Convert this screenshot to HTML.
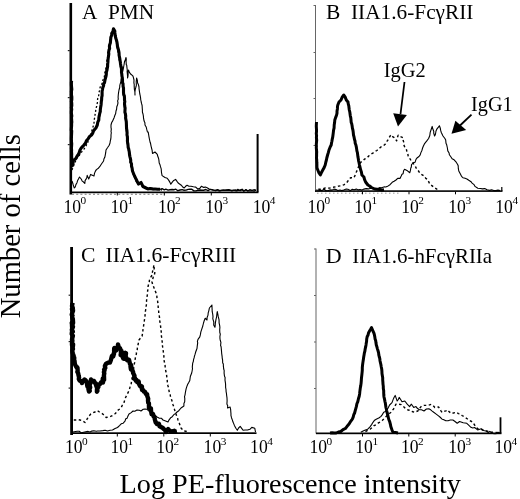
<!DOCTYPE html>
<html><head><meta charset="utf-8">
<style>
html,body{margin:0;padding:0;background:#fff;}
body{width:520px;height:499px;overflow:hidden;}
svg{display:block;}
text{font-family:"Liberation Serif",serif;fill:#000;}
</style></head>
<body>
<svg width="520" height="499" viewBox="0 0 520 499">
<text x="20.2" y="318.3" font-size="28.6" transform="rotate(-90 20.2 318.3)">Number of cells</text>
<text x="119.6" y="492.5" font-size="28.2">Log PE-fluorescence intensity</text>

<!-- Panel A -->
<rect x="69.5" y="3" width="2.6" height="191.5" fill="#000"/>
<rect x="67.8" y="50" width="2" height="1.2" fill="#222"/><rect x="67.8" y="97" width="2" height="1.2" fill="#222"/><rect x="67.8" y="144" width="2" height="1.2" fill="#222"/>
<rect x="70" y="191.5" width="188.5" height="1.7" fill="#000"/>
<line x1="72" y1="194.3" x2="165" y2="194.3" stroke="#999" stroke-width="1.6" stroke-dasharray="2 2.2"/>
<text x="82" y="18.8" font-size="21.3">A</text>
<text x="108" y="18.8" font-size="21.3">PMN</text>
<polyline points="72.0,181.0 73.1,184.2 73.2,184.9 74.3,188.0 75.3,186.8 75.9,184.6 77.0,182.7 77.5,180.8 78.6,178.7 79.5,177.0 81.2,179.0 82.2,181.1 83.3,181.8 84.8,183.5 85.1,180.6 85.9,179.4 86.9,177.2 87.2,175.4 88.7,179.0 89.7,176.7 90.6,174.4 94.0,176.0 94.5,173.4 95.3,171.4 96.4,169.6 98.4,168.2 99.7,166.7 101.6,163.8 103.6,161.0 103.9,159.1 104.8,157.3 105.3,154.8 105.7,152.7 106.0,150.0 107.3,148.0 107.8,147.3 109.2,145.2 110.0,143.0 110.3,140.9 110.8,139.0 111.0,137.0 111.0,135.0 111.3,132.7 111.0,131.7 111.3,129.1 111.0,127.4 111.0,125.0 111.7,122.5 112.4,121.4 113.2,119.7 114.1,117.7 115.0,115.0 115.6,113.8 116.0,111.0 116.6,109.3 116.8,106.7 117.5,105.0 118.0,102.9 117.6,100.9 118.3,99.1 118.1,97.2 118.3,94.7 118.6,92.4 119.0,90.0 119.7,87.5 119.8,85.3 120.0,84.6 120.9,81.5 121.0,80.0 121.5,77.9 121.7,75.2 122.2,73.4 122.5,72.0 123.3,68.9 123.7,66.5 124.0,65.0 124.5,61.6 125.1,60.6 126.0,57.5 126.3,59.0 126.1,61.5 126.3,64.7 126.7,65.1 127.0,68.0 127.3,70.2 127.1,71.3 127.3,73.2 127.6,76.5 127.5,78.0 127.9,76.7 128.1,74.7 128.1,72.0 128.5,70.0 129.4,72.4 130.9,74.3 132.6,75.6 133.3,77.1 134.0,80.0 133.9,82.8 134.2,84.4 134.2,86.5 134.4,89.4 134.7,90.9 134.9,92.0 135.0,95.0 134.9,92.2 135.2,89.9 135.7,87.9 136.1,86.5 136.4,85.2 136.2,81.8 136.5,79.7 136.6,78.0 137.4,80.5 137.6,82.9 138.4,84.6 139.0,87.0 139.0,88.3 139.4,91.2 139.8,94.0 140.1,95.1 140.6,98.0 140.7,99.5 141.2,102.0 141.6,103.7 142.1,105.5 142.3,108.8 142.4,109.9 142.4,112.1 143.0,114.0 143.4,116.1 143.5,117.8 144.1,121.1 144.9,122.8 145.0,125.0 146.2,127.0 146.7,129.2 147.4,131.9 148.2,132.1 148.7,135.0 149.0,136.8 149.6,140.0 150.2,142.6 150.5,143.1 151.0,145.8 151.5,148.0 152.1,150.2 152.5,153.5 155.0,152.0 157.3,154.4 157.6,155.8 158.6,158.5 158.9,160.1 159.2,163.0 159.9,164.4 160.5,166.7 161.2,168.8 161.4,171.5 161.5,172.7 162.1,175.6 165.0,177.5 167.2,178.2 168.8,180.4 170.1,182.6 170.8,184.2 171.9,182.6 173.7,180.4 175.6,179.4 177.2,181.6 178.5,183.3 181.3,185.2 182.7,187.0 184.2,188.0 185.6,186.3 187.1,185.2 188.9,186.2 191.0,186.2 193.4,186.7 195.8,187.1 197.7,189.0 199.8,188.4 201.5,186.2 203.7,187.4 205.4,187.1 207.1,187.7 209.2,189.0 213.0,190.2 214.8,190.2 217.1,190.1 219.1,191.0 220.7,190.8 223.4,190.0 225.0,190.3 227.0,189.7 228.8,189.5 231.6,191.0 233.0,190.6 235.1,189.9 237.5,190.6 239.5,190.2 241.6,189.6 243.8,191.1 245.7,189.6 247.6,190.7 249.8,191.0 251.8,190.7 254.1,191.2 256.0,190.3" fill="none" stroke="#000" stroke-width="1.1" stroke-linejoin="round"/>
<polyline points="72.0,170.0 72.8,167.7 73.6,165.8 74.2,164.2 75.4,161.4 76.0,160.0 77.2,157.7 78.7,156.6 80.0,154.0 81.2,152.8 82.2,151.0 83.8,149.4 84.9,147.6 86.0,146.0 86.7,144.2 87.8,142.3 88.4,139.8 89.5,138.0 90.1,136.4 90.9,134.3 91.6,132.3 92.0,130.0 92.8,127.5 93.5,125.3 94.0,123.0 94.1,121.3 94.5,118.2 94.9,117.0 95.1,114.4 95.5,112.0 95.8,110.0 96.2,107.8 96.7,106.1 97.0,104.2 97.4,102.4 97.5,100.0 97.8,98.2 98.6,96.4 98.8,94.5 99.0,92.3 99.6,90.4 100.0,88.0 100.6,85.7 101.8,84.4 102.5,81.5 103.0,79.9 104.0,78.0 104.5,75.8 104.6,74.4 105.0,72.1 105.5,70.3 106.0,68.0 106.5,66.5 106.8,64.0 106.7,61.8 107.0,60.1 107.5,58.0 107.7,55.6 107.8,54.1 108.4,51.5 108.7,49.8 108.7,48.5 109.0,46.0 109.3,44.0 109.7,42.2 110.1,40.1 110.3,38.5 110.8,35.9 111.0,34.0 111.9,31.2 113.0,29.0 115.0,32.0 115.3,34.6 115.4,36.1 115.9,37.9 116.3,39.4 116.5,42.0 116.6,44.2 117.1,46.2 117.3,48.2 117.8,50.2 118.0,52.0 118.1,53.4 118.9,56.2 119.0,57.7 119.2,60.1 119.6,61.8 120.0,64.0 120.3,65.8 120.5,67.8 120.7,70.3 121.3,72.1 121.5,74.0 121.6,75.8 121.8,78.4 122.1,79.6 122.2,82.2 122.5,83.8 122.8,86.4 123.0,88.0 123.0,90.4 123.4,91.8 123.5,94.5 123.5,95.7 123.7,98.0 124.0,100.0 124.3,102.4 124.2,103.6 124.6,106.4 124.6,108.4 124.7,109.6 125.0,112.0 125.1,114.4 125.3,115.8 125.5,117.9 125.5,120.5 126.0,121.4 126.0,124.0 126.4,126.5 126.5,127.9 126.3,130.5 126.7,132.3 126.7,134.2 126.8,135.7 127.0,138.0 127.0,139.7 127.4,142.1 127.5,144.4 128.1,146.5 128.4,148.5 128.5,150.5 128.9,151.4 129.0,154.0 129.2,155.6 129.7,158.2 130.2,159.9 130.3,162.1 130.8,163.7 131.0,166.0 131.6,168.0 131.9,169.8 132.7,172.0 133.0,174.0 134.1,175.9 135.1,179.2 136.0,181.0 137.8,183.4 140.0,185.0 142.2,186.2 143.9,186.5 146.0,188.0 148.3,188.1 150.5,188.7 152.5,189.5 155.0,189.5 157.2,189.1 159.5,189.4 162.0,190.0" fill="none" stroke="#000" stroke-width="1.3" stroke-linejoin="round" stroke-dasharray="2 2"/>
<polyline points="71.6,80.8 71.4,82.5 71.4,84.7 71.5,86.3 71.8,89.5 71.4,91.3 71.5,93.1 71.4,94.6 71.8,96.7 71.8,99.6 71.4,101.6 71.7,102.9 71.8,105.5 71.4,107.8 71.7,109.4 71.4,111.3 71.4,113.3 71.8,116.0 71.5,117.5 71.6,120.0 71.8,122.0 71.6,123.6 71.6,125.7 71.5,127.1 71.3,130.1 71.7,131.0 71.6,133.4 71.5,135.7 71.4,138.5 71.4,139.7 71.5,142.0 71.7,143.7 71.6,145.7 71.4,148.5 71.6,150.0 71.5,151.4 71.7,154.4 71.6,155.6 71.7,157.5 71.8,160.0 72.0,161.4 72.2,164.6 72.0,166.0 72.9,164.3 73.2,161.3 74.0,160.0 75.5,159.0 76.9,156.5 78.0,155.0 79.2,152.7 80.0,150.0 81.2,148.0 82.5,146.6 84.0,145.0 85.6,142.8 86.4,140.8 88.0,139.0 89.6,136.4 91.5,135.0 92.6,133.4 93.6,130.7 95.0,129.0 96.1,127.7 97.3,125.0 97.8,122.1 98.8,120.0 98.9,117.4 99.2,116.2 99.7,113.4 100.3,111.6 100.3,110.0 100.6,107.5 100.8,106.4 101.1,104.7 101.3,101.6 101.6,100.0 101.7,97.4 102.1,95.6 102.1,94.5 102.1,91.3 102.4,90.0 102.8,87.6 103.6,85.6 103.7,83.5 104.5,82.6 105.0,80.0 105.3,78.7 105.9,76.6 106.3,74.4 106.4,72.0 107.0,70.0 107.4,67.6 107.6,66.6 107.7,63.8 107.9,62.4 108.0,60.0 108.2,58.4 108.5,56.2 108.8,53.7 108.6,52.6 109.0,50.0 109.6,48.7 109.4,46.2 109.8,44.6 110.4,42.7 110.6,40.0 110.9,37.1 111.6,35.5 112.0,33.0 113.0,31.2 113.5,28.8 114.8,31.0 114.9,32.9 115.3,36.1 115.8,38.3 116.4,40.0 117.0,42.4 117.3,44.5 117.5,46.5 118.0,48.2 118.5,50.0 119.0,52.5 119.1,54.0 119.1,55.3 119.7,58.1 120.0,60.0 120.4,62.5 120.5,63.5 120.9,66.4 121.4,67.3 121.5,70.0 121.5,72.5 121.8,74.1 122.0,76.4 122.3,77.6 122.5,80.0 122.5,82.7 123.0,83.5 123.1,86.5 123.5,87.9 123.5,90.0 123.5,92.4 123.7,94.5 124.3,95.7 124.5,97.9 124.5,100.0 124.8,101.5 124.5,103.5 124.7,106.0 125.1,108.1 125.0,110.0 124.9,112.3 125.4,113.7 125.7,116.0 125.6,118.0 126.0,120.0 126.3,121.8 126.4,124.1 126.5,127.1 126.6,128.8 126.9,130.5 127.1,132.8 127.0,135.0 127.4,136.7 127.5,139.4 127.4,140.9 127.7,143.4 128.0,145.0 128.2,147.6 128.7,149.1 129.3,152.0 129.5,154.4 129.9,156.6 130.3,158.1 130.7,160.0 130.7,162.2 131.5,163.9 131.5,166.0 132.1,168.1 132.5,171.0 133.4,173.3 134.5,176.0 135.2,177.3 136.5,180.0 137.7,182.6 138.5,184.0 141.0,182.5 142.2,184.9 143.0,186.5 146.0,188.0 147.8,188.9 150.0,188.5 152.5,188.9 155.0,189.0 157.7,189.3 160.0,189.3" fill="none" stroke="#000" stroke-width="3.1" stroke-linejoin="round"/>
<polyline points="160.0,189.3 162.1,188.7 164.3,189.8 165.8,189.2 168.1,190.1 170.0,189.8 172.1,189.5 174.2,189.7 175.8,189.2 177.9,190.7 180.0,190.0 182.2,189.6 183.7,190.2 186.1,190.1 188.1,189.4 189.9,189.3 191.8,189.2 193.9,190.9 196.0,190.9 198.3,190.2 200.0,190.0 201.7,190.3 204.1,190.2 205.7,189.5 208.0,190.7 210.0,189.5 212.2,189.6 213.7,190.1 215.7,190.7 217.7,189.7 219.7,190.6 221.7,190.2 224.1,190.1 226.0,190.2 228.0,190.2 230.0,190.2 231.7,190.4 233.8,190.2 236.3,190.9 237.7,189.4 240.1,190.6 242.1,189.3 243.9,191.0 246.0,189.9 247.8,191.0 249.8,189.8 252.0,190.4 253.9,189.8 256.0,190.2" fill="none" stroke="#000" stroke-width="1.4" stroke-linejoin="round"/>

<rect x="256.6" y="134" width="2" height="58" fill="#000"/>
<text x="63.5" y="213" font-size="18.8" textLength="17.6" lengthAdjust="spacingAndGlyphs">10</text><text x="80.6" y="203.8" font-size="11.3">0</text>
<text x="110.5" y="213" font-size="18.8" textLength="17.6" lengthAdjust="spacingAndGlyphs">10</text><text x="127.6" y="203.8" font-size="11.3">1</text>
<text x="157.9" y="213" font-size="18.8" textLength="17.6" lengthAdjust="spacingAndGlyphs">10</text><text x="175.0" y="203.8" font-size="11.3">2</text>
<text x="205.3" y="213" font-size="18.8" textLength="17.6" lengthAdjust="spacingAndGlyphs">10</text><text x="222.4" y="203.8" font-size="11.3">3</text>
<text x="252.7" y="213" font-size="18.8" textLength="17.6" lengthAdjust="spacingAndGlyphs">10</text><text x="269.8" y="203.8" font-size="11.3">4</text>


<g fill="#000"><rect x="116.8" y="193" width="1" height="2.5"/><rect x="163.8" y="193" width="1" height="2.5"/><rect x="210.8" y="193" width="1" height="2.5"/></g>
<!-- Panel B -->
<rect x="315" y="5" width="1" height="187" fill="#666"/>
<rect x="313.5" y="5" width="2" height="1" fill="#666"/>
<rect x="313.5" y="52" width="2" height="1" fill="#666"/>
<rect x="313.5" y="98" width="2" height="1" fill="#666"/>
<rect x="313.5" y="145" width="2" height="1" fill="#666"/>
<rect x="315" y="190.3" width="187.5" height="1.6" fill="#000"/>
<line x1="317" y1="193.2" x2="400" y2="193.2" stroke="#bbb" stroke-width="1.4" stroke-dasharray="1.5 2.5"/>
<rect x="501.2" y="187" width="1.2" height="4" fill="#000"/>
<text x="326" y="18.6" font-size="21.5">B</text>
<text x="351" y="18.6" font-size="21.5" id="tB" textLength="122.4" lengthAdjust="spacingAndGlyphs">IIA1.6-FcγRII</text>
<polyline points="316.0,190.0 318.2,190.2 320.3,190.5 322.3,190.4 324.0,189.2 326.1,190.8 327.7,190.7 329.8,189.9 332.1,190.1 333.8,189.1 336.3,189.6 337.8,190.5 340.0,190.0 341.7,190.5 343.7,190.1 346.3,189.0 347.8,189.3 350.3,190.6 352.3,189.3 354.1,189.7 356.3,189.1 358.3,189.9 360.0,189.5 362.0,190.1 364.0,189.1 366.1,188.6 368.6,188.9 370.8,188.2 372.7,188.8 375.0,189.0 377.2,189.0 379.5,187.6 381.4,187.8 384.0,186.9 385.7,187.0 388.2,185.9 390.0,184.7 392.2,182.3 394.1,181.3 396.0,180.0 397.7,178.3 400.0,178.4 401.2,176.0 402.0,174.2 403.1,173.7 403.6,170.8 404.6,169.2 406.9,170.4 409.8,172.7 410.4,170.7 410.8,167.9 411.3,167.2 411.5,164.6 413.6,162.6 415.0,162.3 416.0,159.3 417.3,157.7 419.0,156.5 420.2,154.9 420.8,152.9 422.0,150.2 422.6,148.0 423.4,146.0 424.4,143.9 426.8,140.9 428.6,138.5 429.8,135.5 430.2,132.4 431.0,130.0 432.2,126.4 432.5,128.0 433.8,131.5 433.7,133.0 434.6,136.0 435.4,134.5 436.0,131.0 437.0,128.8 439.4,125.8 440.3,128.2 440.6,130.2 441.3,132.5 443.0,136.0 444.9,138.5 445.7,140.1 446.0,143.3 446.7,144.8 447.4,148.0 447.8,150.9 449.1,153.0 449.4,154.8 451.0,157.0 452.1,158.8 454.1,159.8 456.2,162.2 457.5,164.2 458.2,165.8 458.3,168.4 458.8,171.0 460.4,174.1 461.5,176.3 462.9,177.7 465.1,178.3 466.9,179.0 468.8,180.3 471.0,181.7 472.1,183.1 474.0,184.6 475.0,186.4 477.8,188.3 480.4,188.5 482.5,188.9 484.7,188.6 487.1,189.8 489.5,190.4 491.6,189.8 493.7,190.6 495.9,190.6 498.0,190.1 500.0,190.5" fill="none" stroke="#000" stroke-width="1.1" stroke-linejoin="round"/>
<polyline points="318.3,189.2 320.7,189.3 322.8,188.7 325.3,188.0 327.6,188.2 329.8,188.0 332.8,187.3 335.6,186.9 338.6,186.1 341.4,185.8 343.7,184.8 346.0,183.4 347.6,181.5 349.1,179.3 350.6,177.7 354.0,177.7 354.7,176.1 355.7,174.1 356.4,171.9 357.2,170.2 358.2,167.4 358.9,166.1 359.8,163.8 361.2,161.9 362.8,160.9 364.4,159.2 366.7,158.0 369.0,155.8 371.1,154.1 373.2,152.9 375.0,151.6 376.9,150.5 378.8,148.8 380.6,147.2 383.2,145.9 385.4,144.0 386.4,141.8 387.5,140.6 388.6,138.8 389.6,136.9 391.0,134.8 392.6,136.6 394.2,137.6 395.5,138.8 396.6,140.8 397.3,137.8 398.2,135.2 399.8,136.4 403.0,137.6 403.1,140.0 403.7,142.1 403.8,144.8 405.0,147.6 406.6,150.0 407.0,152.6 407.9,154.4 408.3,156.9 409.2,157.7 410.9,160.1 412.7,162.3 413.8,164.1 415.2,165.7 416.1,168.0 417.8,169.9 419.6,172.7 421.9,174.6 424.2,176.1 425.8,178.3 427.7,179.6 429.0,182.4 430.0,184.2 432.5,186.1 434.6,187.7 436.4,188.8 438.0,190.0" fill="none" stroke="#000" stroke-width="1.4" stroke-linejoin="round" stroke-dasharray="2.5 2.5"/>
<polyline points="316.5,122.0 316.4,123.8 316.3,126.2 316.4,128.0 316.5,129.6 316.5,131.5 316.3,133.6 316.6,135.9 316.4,137.6 316.7,140.1 316.5,142.1 316.3,144.5 316.4,146.4 316.3,147.6 316.5,150.0 316.7,151.8 316.6,153.7 316.6,156.1 316.5,158.0 316.7,159.6 316.8,162.2 316.9,163.8 316.9,166.0 317.0,168.0 318.1,170.8 319.0,173.0 320.4,175.0 321.6,172.2 322.8,170.0 324.2,167.5 325.2,165.0 325.7,162.7 326.4,160.0 326.8,158.0 327.6,155.0 328.4,152.4 329.0,150.0 330.1,147.2 331.2,145.0 331.6,142.5 331.9,141.3 332.2,139.4 332.7,137.2 333.0,135.0 333.3,132.6 333.6,130.0 334.1,127.8 334.2,125.0 334.6,122.5 334.8,120.0 335.8,117.1 336.6,115.0 337.0,113.1 337.0,111.3 337.4,108.9 337.5,106.5 337.8,105.0 339.0,102.0 341.0,100.0 342.2,97.2 343.8,95.0 345.2,97.1 346.3,100.0 348.0,102.0 348.2,103.6 348.8,105.9 349.0,107.6 349.3,110.0 349.8,112.0 350.1,114.3 350.3,115.8 350.8,117.9 351.0,120.0 351.2,122.5 351.7,123.7 352.1,125.7 352.4,128.1 352.9,130.0 353.2,132.0 353.5,135.0 354.0,136.9 354.5,139.5 355.0,141.0 355.2,143.2 355.9,145.0 356.4,147.4 356.7,149.4 356.9,150.9 357.4,152.6 357.7,155.0 357.9,156.6 358.3,158.7 358.6,160.8 359.0,162.5 359.5,165.0 360.0,167.1 360.7,170.0 361.4,172.0 361.9,175.0 363.9,177.0 364.6,179.6 365.6,182.0 367.9,185.0 369.6,186.0 371.4,187.5 374.8,189.0 377.2,189.2 380.0,189.6 382.2,190.0 384.0,189.8" fill="none" stroke="#000" stroke-width="3" stroke-linejoin="round"/>

<text x="383.8" y="77.4" font-size="20.4">IgG2</text>
<text x="471.1" y="110.7" font-size="20.2">IgG1</text>
<line x1="404.5" y1="82" x2="400.5" y2="114" stroke="#000" stroke-width="1.8"/>
<polygon points="393.2,113.3 406.9,114.9 398,126.5" fill="#000"/>
<line x1="471.5" y1="114.6" x2="460" y2="125.5" stroke="#000" stroke-width="1.8"/>
<polygon points="451.5,133.8 455.4,120.8 466.2,130" fill="#000"/>
<text x="307.5" y="212.5" font-size="18.8" textLength="17.6" lengthAdjust="spacingAndGlyphs">10</text><text x="324.6" y="203.5" font-size="11.3">0</text>
<text x="354.3" y="212.5" font-size="18.8" textLength="17.6" lengthAdjust="spacingAndGlyphs">10</text><text x="371.4" y="203.5" font-size="11.3">1</text>
<text x="401.2" y="212.5" font-size="18.8" textLength="17.6" lengthAdjust="spacingAndGlyphs">10</text><text x="418.3" y="203.5" font-size="11.3">2</text>
<text x="448.3" y="212.5" font-size="18.8" textLength="17.6" lengthAdjust="spacingAndGlyphs">10</text><text x="465.4" y="203.5" font-size="11.3">3</text>
<text x="495.3" y="212.5" font-size="18.8" textLength="17.6" lengthAdjust="spacingAndGlyphs">10</text><text x="512.4" y="203.5" font-size="11.3">4</text>


<g fill="#000"><rect x="362" y="191.8" width="1" height="2.5"/><rect x="408.5" y="191.8" width="1" height="2.5"/><rect x="455" y="191.8" width="1" height="2.5"/></g>
<!-- Panel C -->
<rect x="70.2" y="247" width="2.8" height="188" fill="#000"/>
<rect x="68.6" y="294.6" width="2" height="1.2" fill="#222"/><rect x="68.6" y="341" width="2" height="1.2" fill="#222"/><rect x="68.6" y="387.5" width="2" height="1.2" fill="#222"/>
<rect x="71" y="432.3" width="185.5" height="1.7" fill="#000"/>
<text x="81" y="262.3" font-size="21.7">C</text>
<text x="105.5" y="262.3" font-size="21.5" id="tC">IIA1.6-FcγRIII</text>
<polyline points="73.0,432.0 75.5,431.5 77.4,431.3 79.2,431.3 81.3,432.9 83.6,432.3 85.7,431.9 88.1,431.4 90.0,432.0 91.8,431.1 93.8,430.7 96.3,431.2 97.7,431.0 100.0,431.0 102.9,430.6 105.1,430.2 107.5,431.0 110.1,430.3 112.5,430.0 115.1,428.5 117.5,427.5 119.5,425.6 121.2,423.8 123.2,423.2 125.0,421.2 125.7,418.8 127.0,418.4 128.3,415.3 129.0,414.0 131.2,412.6 133.0,411.0 134.8,411.2 137.0,410.0 139.3,410.2 141.0,411.0 143.2,409.3 145.0,409.0 147.1,409.3 149.3,411.4 151.0,412.0 153.0,414.3 154.7,414.8 157.0,417.0 159.0,418.1 161.3,418.2 163.0,420.0 165.6,421.0 168.0,422.0 169.1,419.8 170.6,417.8 172.0,417.0 173.6,414.9 175.6,413.4 177.0,412.0 178.8,410.7 181.0,408.0 183.9,406.0 183.9,403.5 184.7,401.8 184.8,398.7 184.5,396.6 185.0,395.1 185.4,392.4 186.1,388.9 186.8,386.6 187.7,384.2 188.7,382.6 189.7,380.8 190.0,379.0 190.4,376.2 191.2,374.2 191.7,373.0 192.2,370.5 192.5,368.5 192.3,367.1 192.7,363.1 193.3,361.5 193.6,359.4 194.1,357.9 194.4,356.4 195.1,354.2 195.6,352.3 196.5,349.7 197.0,348.5 197.2,346.4 197.7,342.9 197.4,341.3 198.0,339.3 199.8,336.9 200.4,334.7 200.8,332.1 201.6,329.7 202.8,326.0 203.5,323.0 204.0,321.3 205.2,318.2 207.0,320.0 207.1,317.5 208.0,315.1 208.2,312.8 208.8,310.8 209.4,308.0 211.9,305.0 212.0,307.1 212.1,309.0 212.2,311.7 212.7,314.0 213.0,316.6 212.8,318.6 213.3,320.3 213.8,322.0 213.7,324.9 214.9,327.3 215.2,325.6 215.3,323.4 215.8,320.4 216.1,318.8 216.6,316.8 217.0,313.1 217.3,311.6 217.9,314.7 218.2,316.4 219.0,319.6 219.1,321.3 219.1,322.9 219.7,325.6 219.9,327.4 219.7,329.7 219.8,332.5 220.3,334.2 219.9,336.7 220.0,339.0 220.3,340.5 220.9,342.4 220.6,345.5 221.1,346.7 221.4,349.9 221.6,352.2 221.7,353.6 222.1,356.4 222.2,357.8 222.6,360.2 222.7,363.0 223.3,363.8 223.4,366.4 223.7,369.0 224.2,370.6 224.1,373.1 224.5,376.3 225.1,377.6 225.0,380.1 225.5,383.3 225.6,384.7 225.6,387.3 226.0,389.5 226.1,391.6 226.5,393.7 226.6,395.1 227.0,397.9 227.1,400.3 227.1,401.0 226.9,404.1 227.7,405.8 227.6,408.0 230.1,407.0 230.7,409.9 230.7,410.5 231.0,414.1 230.9,415.2 231.5,417.7 232.5,420.4 232.9,421.8 233.9,424.1 234.4,425.4 235.9,428.3 237.3,430.3 238.6,428.0 240.2,426.4 241.5,428.1 243.1,430.3 245.1,430.0 247.5,430.0 249.9,429.3 251.8,427.4 254.8,428.3 255.5,432.0" fill="none" stroke="#000" stroke-width="1.1" stroke-linejoin="round"/>
<polyline points="73.8,420.0 75.8,420.0 78.1,419.6 80.0,420.0 82.5,420.8 85.0,422.5 86.1,420.8 87.5,418.4 88.8,416.2 90.6,414.2 92.5,413.0 95.0,412.0 97.5,410.6 99.9,412.4 102.5,413.8 104.2,415.4 106.2,417.5 108.9,416.9 111.2,416.2 113.2,415.1 115.0,413.8 116.8,412.0 118.2,410.0 120.0,408.8 121.3,407.3 122.3,405.3 123.8,403.8 124.3,401.4 125.1,399.4 125.6,397.5 126.8,395.1 127.5,393.7 128.8,391.2 129.6,388.6 130.4,385.8 131.2,383.8 131.4,382.2 131.7,379.9 132.3,377.9 132.3,375.5 132.8,373.4 133.0,371.4 133.6,369.9 133.7,367.8 133.9,366.1 134.2,364.0 134.9,362.1 135.0,360.0 135.4,357.6 135.7,356.1 136.4,353.8 136.4,352.5 137.2,350.2 137.4,347.7 137.7,345.5 138.2,344.2 138.4,342.3 139.0,340.0 140.7,337.9 142.1,336.2 142.4,334.2 142.9,331.9 142.9,330.0 143.3,328.1 143.6,325.6 144.0,323.6 144.2,321.5 144.6,319.0 144.9,316.9 145.1,314.8 145.3,313.5 145.4,311.3 145.8,309.0 146.0,307.2 146.4,304.7 146.3,302.9 146.5,301.4 146.7,299.2 146.9,297.3 147.4,294.6 147.6,292.7 147.6,291.0 148.0,289.3 148.1,286.2 148.6,284.3 149.2,282.6 149.4,280.3 150.6,277.5 152.0,275.0 152.2,273.1 152.8,270.6 153.0,269.2 153.6,267.0 153.9,265.0 154.1,267.3 154.2,269.4 154.7,271.2 154.8,273.0 154.1,275.6 153.2,277.1 152.6,279.8 152.0,282.0 152.8,284.9 153.9,287.5 154.7,290.2 155.6,291.8 156.6,294.7 156.9,296.7 157.0,298.7 157.6,300.9 157.8,303.0 158.1,304.6 158.2,307.5 158.4,309.2 158.7,311.3 158.7,313.7 159.2,315.5 159.5,317.2 159.5,319.7 159.9,321.7 160.2,323.6 160.5,325.6 160.7,327.2 161.0,329.5 161.2,331.4 161.4,334.0 161.4,336.1 161.8,337.9 162.0,339.8 162.2,342.0 162.3,343.4 162.5,346.0 162.7,347.4 163.0,349.9 163.3,351.4 163.5,353.8 163.8,355.5 164.0,358.1 164.0,360.0 164.5,362.5 164.6,363.6 165.1,365.7 165.2,367.7 165.5,369.6 166.0,372.0 166.5,374.4 166.7,375.9 166.9,378.0 167.2,379.9 167.3,381.7 167.6,384.0 168.0,386.0 168.7,387.9 168.8,389.5 169.3,392.3 170.1,393.8 170.4,396.1 171.0,398.0 171.5,399.6 172.3,401.8 172.9,404.5 173.6,406.4 174.0,408.0 174.8,410.4 175.2,412.5 175.9,413.8 176.7,416.1 177.5,417.8 178.0,420.0 178.6,421.9 179.5,423.8 180.3,426.1 181.0,428.0 182.4,429.4 184.0,431.0 185.9,431.2 188.0,431.5" fill="none" stroke="#000" stroke-width="1.4" stroke-linejoin="round" stroke-dasharray="2.5 2.5"/>
<polyline points="72.4,302.8 72.3,304.5 72.0,305.9 72.9,308.2 71.9,309.1 72.2,310.0 73.1,310.5 71.7,314.6 72.5,315.5 72.1,315.3 72.3,317.7 72.6,319.2 72.8,318.6 73.1,323.1 71.7,323.2 71.9,322.5 72.1,327.3 73.0,326.6 72.5,327.9 71.8,329.8 72.9,331.7 72.0,331.6 71.7,334.0 72.9,335.7 72.4,337.7 71.9,339.8 72.4,340.0 72.3,341.6 72.0,343.2 72.0,345.2 73.1,344.4 72.6,348.6 72.4,348.1 73.0,349.0 72.3,350.0 72.5,352.4 73.0,354.0 73.7,355.9 73.5,357.8 73.7,357.6 74.3,357.8 74.0,360.3 74.5,360.8 74.8,363.7 75.4,365.2 76.6,367.4 77.2,367.3 77.5,367.8 77.7,371.7 77.3,372.0 78.1,373.0 78.4,374.5 78.6,375.6 79.1,377.8 78.8,379.0 79.6,380.5 81.5,381.5 82.0,383.0 82.5,381.9 84.5,379.5 85.6,380.5 85.6,380.3 86.7,381.8 87.4,386.4 88.0,386.0 88.2,387.7 88.6,389.7 89.0,391.5 89.8,390.8 89.3,389.2 90.2,387.5 89.4,384.3 90.0,384.0 90.6,382.9 90.8,381.5 91.0,379.5 92.5,381.4 94.0,381.0 95.3,383.4 95.9,383.4 96.0,385.0 96.8,387.4 97.1,386.6 97.4,390.8 97.0,391.5 96.9,391.6 97.0,388.9 98.4,387.0 98.0,385.0 100.0,384.0 101.3,382.1 103.0,382.5 102.7,379.5 102.8,378.4 104.1,379.8 104.0,376.4 103.9,375.7 104.3,373.2 103.9,372.2 104.6,370.0 104.1,369.5 105.3,367.9 104.9,366.0 106.0,363.7 108.5,362.5 109.9,362.6 110.9,360.0 111.6,357.3 111.9,356.1 113.3,356.4 113.4,354.1 113.9,354.5 114.2,351.4 114.1,350.8 114.2,348.5 114.5,348.0 115.7,348.6 116.3,350.4 116.6,348.8 117.1,347.3 117.9,346.6 118.0,344.4 118.8,347.3 119.9,348.0 120.9,350.5 120.9,352.7 121.5,350.8 120.6,355.0 121.7,355.2 122.2,355.8 123.4,358.5 124.0,358.8 123.9,356.5 124.1,354.6 125.6,355.3 125.3,352.8 126.0,353.2 125.5,357.3 126.2,357.4 127.2,360.3 127.0,360.0 129.0,360.0 129.0,359.7 130.0,364.1 130.7,364.4 131.4,366.7 130.5,366.5 130.9,369.3 132.0,370.0 133.0,371.6 133.1,372.3 133.0,372.8 134.5,375.7 133.8,378.5 135.0,378.0 135.8,380.7 136.5,379.9 137.2,381.9 138.7,381.5 139.0,384.0 140.0,385.9 141.3,387.2 141.9,386.4 142.0,390.0 143.0,390.0 143.9,391.5 144.9,391.6 146.0,394.0 147.1,394.2 147.2,395.9 148.2,398.8 148.0,400.0 148.2,402.7 148.2,402.8 148.9,403.2 149.0,408.0 150.0,408.0 150.9,408.3 151.0,410.5 151.6,414.1 153.0,414.0 153.4,415.9 153.6,416.4 154.4,417.3 155.0,420.0 155.6,422.2 156.9,423.7 157.0,424.0 158.9,423.8 159.6,426.3 161.0,427.0 162.9,428.0 163.1,428.6 165.0,430.0 165.9,431.9 168.1,429.1 168.9,430.1 171.2,431.6 172.0,431.3 174.3,430.8 175.5,431.9 177.0,431.5" fill="none" stroke="#000" stroke-width="4.4" stroke-linejoin="round"/>

<text x="65.0" y="453.3" font-size="18.8" textLength="17.6" lengthAdjust="spacingAndGlyphs">10</text><text x="82.1" y="444.5" font-size="11.3">0</text>
<text x="110.5" y="453.3" font-size="18.8" textLength="17.6" lengthAdjust="spacingAndGlyphs">10</text><text x="127.6" y="444.5" font-size="11.3">1</text>
<text x="156.3" y="453.3" font-size="18.8" textLength="17.6" lengthAdjust="spacingAndGlyphs">10</text><text x="173.4" y="444.5" font-size="11.3">2</text>
<text x="203.6" y="453.3" font-size="18.8" textLength="17.6" lengthAdjust="spacingAndGlyphs">10</text><text x="220.7" y="444.5" font-size="11.3">3</text>
<text x="250.1" y="453.3" font-size="18.8" textLength="17.6" lengthAdjust="spacingAndGlyphs">10</text><text x="267.2" y="444.5" font-size="11.3">4</text>


<g fill="#000"><rect x="116.8" y="434" width="1" height="2.5"/><rect x="163.3" y="434" width="1" height="2.5"/><rect x="209.8" y="434" width="1" height="2.5"/></g>
<!-- Panel D -->
<rect x="315.5" y="248.5" width="1" height="185" fill="#666"/>
<rect x="316" y="432.5" width="185.5" height="1.7" fill="#000"/>
<rect x="314" y="248.5" width="2" height="1" fill="#666"/>
<rect x="314" y="295" width="2" height="1" fill="#666"/>
<rect x="314" y="341.5" width="2" height="1" fill="#666"/>
<rect x="314" y="388" width="2" height="1" fill="#666"/>
<rect x="499.6" y="417.3" width="1.8" height="16" fill="#000"/>
<text x="325.8" y="263" font-size="22">D</text>
<text x="352.3" y="263" font-size="22" id="tD" textLength="139.8" lengthAdjust="spacingAndGlyphs">IIA1.6-hFcγRIIa</text>
<polyline points="360.8,432.3 363.1,431.1 365.4,430.0 367.7,429.2 370.0,426.9 371.6,424.6 373.0,422.3 374.6,420.2 376.2,419.2 379.2,417.7 381.0,416.4 382.3,414.6 383.7,412.3 385.4,411.5 386.9,409.1 388.0,408.2 389.6,405.0 392.0,402.6 393.2,399.4 393.9,397.7 395.2,395.4 396.5,399.1 397.2,401.0 398.3,399.5 399.2,397.4 400.8,399.8 402.0,401.8 404.8,401.0 407.2,404.2 409.6,406.6 411.2,404.2 412.1,405.2 413.7,407.4 416.0,406.6 417.3,408.3 419.3,409.8 421.5,409.8 424.0,411.0 426.4,409.0 428.8,408.7 430.7,409.8 432.2,411.1 433.7,412.3 436.2,414.1 438.5,415.9 439.9,417.0 442.1,419.2 443.3,419.5 445.8,420.7 448.1,420.7 450.3,420.0 452.9,420.0 454.7,421.3 457.2,423.3 459.6,421.5 463.2,422.7 466.8,423.3 469.2,425.7 470.9,427.3 472.8,428.0 474.6,427.5 477.6,429.9 481.2,428.7 483.5,430.5 486.0,431.0 488.3,432.5 489.8,431.4 492.0,432.9 494.0,433.7 495.9,433.8 498.1,432.2 500.0,433.0" fill="none" stroke="#000" stroke-width="1.1" stroke-linejoin="round"/>
<polyline points="365.4,431.5 367.8,430.3 370.0,429.2 371.9,427.8 374.1,425.6 376.2,424.6 378.4,422.9 380.4,421.9 382.4,420.3 384.5,418.3 386.4,416.2 388.0,414.5 389.8,413.2 391.2,412.2 392.5,410.2 393.6,409.0 394.9,406.2 396.0,404.2 398.6,404.2 401.2,404.6 404.0,407.0 405.8,408.8 408.0,410.0 410.3,410.3 412.1,411.5 414.4,412.3 417.7,411.0 419.2,409.9 420.3,407.4 421.6,406.2 423.9,405.4 426.3,405.4 428.7,405.1 431.2,404.4 433.2,405.6 434.9,407.5 438.5,406.9 439.6,408.6 440.8,410.6 442.0,412.3 443.6,411.4 445.9,410.9 447.5,409.9 449.7,412.2 451.7,413.5 454.0,412.8 456.5,412.3 458.4,413.6 460.1,414.0 462.0,415.5 464.4,416.9 466.8,418.5 469.2,420.3 471.6,421.5 473.2,422.8 474.6,425.0 476.1,426.6 477.6,428.7 479.7,429.2 481.7,429.5 483.7,430.5 485.8,430.8 487.6,431.2 489.7,432.3 491.8,432.3 493.8,432.1 495.8,432.4 498.1,432.8 500.0,433.0" fill="none" stroke="#000" stroke-width="1.4" stroke-linejoin="round" stroke-dasharray="2.5 2.5"/>
<polyline points="330.0,433.0 332.1,432.8 334.2,433.1 336.2,433.0 338.4,432.0 340.8,431.5 343.0,429.7 345.4,428.5 346.5,427.1 347.8,425.4 349.2,423.8 350.7,421.3 352.3,419.2 353.1,417.4 353.8,414.7 354.6,413.0 355.3,410.4 355.8,408.6 356.4,406.4 356.9,403.8 357.8,401.6 358.5,398.5 359.2,396.2 359.6,394.0 359.8,391.9 360.1,389.6 360.4,387.4 360.8,385.4 361.1,383.1 361.3,380.7 361.5,377.7 361.8,375.2 362.1,372.3 362.3,370.0 362.3,367.7 362.5,365.5 362.8,363.1 363.1,361.1 363.4,359.2 363.7,357.0 364.1,354.7 364.4,352.8 364.9,351.0 365.2,348.8 365.7,346.7 366.0,345.0 366.2,343.4 366.6,341.2 366.7,339.0 367.2,336.6 368.0,335.2 368.5,333.0 369.4,331.3 370.6,329.3 371.5,327.6 372.8,330.6 373.9,333.0 374.4,334.8 374.8,336.9 375.1,339.0 375.7,340.7 376.0,343.1 376.3,345.0 376.9,346.8 377.5,349.1 378.1,351.0 378.6,352.9 378.8,354.9 379.3,357.0 379.8,358.7 380.0,360.7 380.5,363.0 380.9,364.7 381.3,367.0 381.7,369.0 381.9,371.0 382.0,373.5 382.4,376.0 382.7,377.7 382.7,379.9 382.9,382.1 383.0,384.1 383.3,386.4 383.3,388.2 383.7,390.7 383.7,392.8 383.8,395.0 384.0,397.0 384.4,398.6 384.9,401.3 385.3,402.8 385.6,405.0 385.9,407.3 386.4,409.1 386.7,410.8 387.2,413.0 387.7,414.9 388.2,417.0 388.8,419.5 389.7,421.6 390.4,424.3 390.8,426.5 391.5,428.5 392.2,430.6 393.1,432.3 395.6,432.6 398.0,433.0" fill="none" stroke="#000" stroke-width="3" stroke-linejoin="round"/>

<text x="309.5" y="453.3" font-size="18.8" textLength="17.6" lengthAdjust="spacingAndGlyphs">10</text><text x="326.6" y="444.5" font-size="11.3">0</text>
<text x="355.3" y="453.3" font-size="18.8" textLength="17.6" lengthAdjust="spacingAndGlyphs">10</text><text x="372.4" y="444.5" font-size="11.3">1</text>
<text x="401.0" y="453.3" font-size="18.8" textLength="17.6" lengthAdjust="spacingAndGlyphs">10</text><text x="418.1" y="444.5" font-size="11.3">2</text>
<text x="448.3" y="453.3" font-size="18.8" textLength="17.6" lengthAdjust="spacingAndGlyphs">10</text><text x="465.4" y="444.5" font-size="11.3">3</text>
<text x="494.5" y="453.3" font-size="18.8" textLength="17.6" lengthAdjust="spacingAndGlyphs">10</text><text x="511.6" y="444.5" font-size="11.3">4</text>

<g fill="#000"><rect x="362" y="434" width="1" height="2.5"/><rect x="408.3" y="434" width="1" height="2.5"/><rect x="454.7" y="434" width="1" height="2.5"/></g>
</svg>
</body></html>
